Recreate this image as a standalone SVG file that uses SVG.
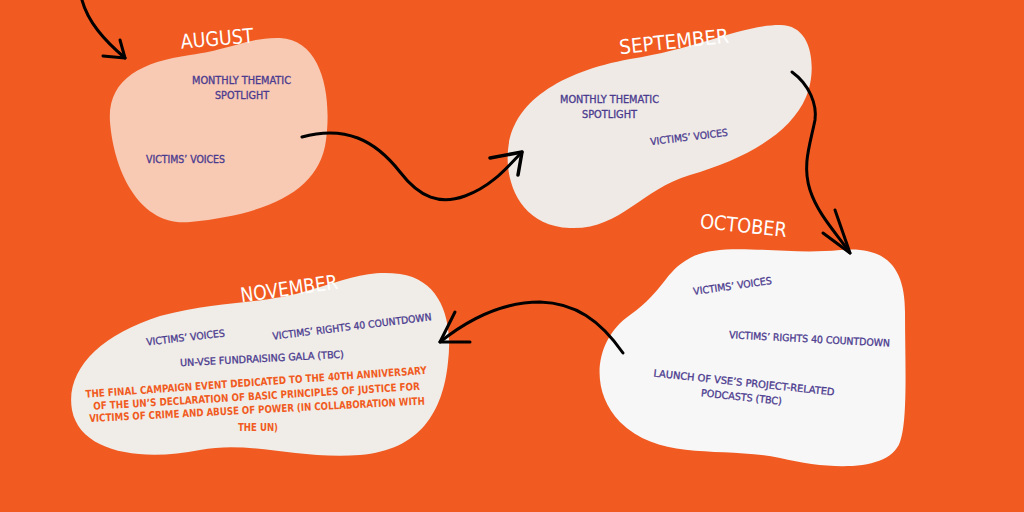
<svg xmlns="http://www.w3.org/2000/svg" width="1024" height="512" viewBox="0 0 1024 512">
<style>
.t{font-family:"DejaVu Sans Condensed","DejaVu Sans",sans-serif;font-size:10px;fill:#4B3B8F;stroke:#4B3B8F;stroke-width:0.3;text-anchor:middle}
.h{font-family:"DejaVu Sans Condensed","DejaVu Sans",sans-serif;font-size:20px;fill:#FFFFFF;text-anchor:middle}
.o{font-family:"DejaVu Sans Condensed","DejaVu Sans",sans-serif;font-size:10.5px;font-weight:bold;fill:#F15B22;text-anchor:middle}
.c{fill:none;stroke:#000;stroke-width:3;stroke-linecap:round;stroke-linejoin:round}
</style>
<rect width="1024" height="512" fill="#F15B22"/>

<g id="august">
<path d="M 280,38 C 322,40 332,95 326,140 C 320,190 270,214 190,222 C 140,227 114,172 110,122 C 107,80 140,62 190,55 C 232,49 250,37 280,38 Z" fill="#F8C9B3"/>
<text class="h" transform="translate(217,38) rotate(-5)" y="7.5" textLength="73" lengthAdjust="spacingAndGlyphs">AUGUST</text>
<text class="t" x="241.5" y="83.5" textLength="99" lengthAdjust="spacingAndGlyphs">MONTHLY THEMATIC</text>
<text class="t" x="242" y="98.5" textLength="54" lengthAdjust="spacingAndGlyphs">SPOTLIGHT</text>
<text class="t" x="185.5" y="163" textLength="79" lengthAdjust="spacingAndGlyphs">VICTIMS’ VOICES</text>
</g>

<g id="september">
<path d="M 780,25 C 816,25 816,75 806,97 C 790,135 742,160 690,175 C 640,190 620,230 570,228 C 520,226 505,182 508,150 C 512,102 560,72 630,59 C 700,48 742,25 780,25 Z" fill="#EFEAE6"/>
<text class="h" transform="translate(674,41) rotate(-6)" y="7.5" textLength="110" lengthAdjust="spacingAndGlyphs">SEPTEMBER</text>
<text class="t" x="609.5" y="103" textLength="99" lengthAdjust="spacingAndGlyphs">MONTHLY THEMATIC</text>
<text class="t" x="609.5" y="118" textLength="55" lengthAdjust="spacingAndGlyphs">SPOTLIGHT</text>
<text class="t" transform="translate(689,137) rotate(-7)" y="3.5" textLength="78" lengthAdjust="spacingAndGlyphs">VICTIMS’ VOICES</text>
</g>

<g id="october">
<path d="M 690,258 C 722,240 782,256 840,250 C 890,245 905,272 905,312 C 905,362 908,420 900,442 C 889,472 830,470 780,458 C 722,446 660,462 620,422 C 589,390 594,340 630,315 C 665,290 664,272 690,258 Z" fill="#F7F7F7"/>
<text class="h" transform="translate(743.5,225) rotate(6)" y="7.5" textLength="87" lengthAdjust="spacingAndGlyphs">OCTOBER</text>
<text class="t" transform="translate(732.5,286) rotate(-8)" y="3.5" textLength="79" lengthAdjust="spacingAndGlyphs">VICTIMS’ VOICES</text>
<text class="t" transform="translate(809.5,339) rotate(3)" y="3.5" textLength="161" lengthAdjust="spacingAndGlyphs">VICTIMS’ RIGHTS 40 COUNTDOWN</text>
<text class="t" transform="translate(744,382.5) rotate(6)" y="3.5" textLength="182" lengthAdjust="spacingAndGlyphs">LAUNCH OF VSE’S PROJECT-RELATED</text>
<text class="t" transform="translate(741.5,397) rotate(6)" y="3.5" textLength="81" lengthAdjust="spacingAndGlyphs">PODCASTS (TBC)</text>
</g>

<g id="november">
<path d="M 400,274 C 442,280 453,322 448,362 C 443,412 420,450 360,455 C 300,460 250,440 200,450 C 140,462 80,452 72,410 C 65,370 100,335 160,316 C 220,300 262,305 310,290 C 350,278 370,270 400,274 Z" fill="#F0EDE8"/>
<text class="h" transform="translate(289,288) rotate(-8)" y="7.5" textLength="98" lengthAdjust="spacingAndGlyphs">NOVEMBER</text>
<text class="t" transform="translate(185.5,337.5) rotate(-6.5)" y="3.5" textLength="79" lengthAdjust="spacingAndGlyphs">VICTIMS’ VOICES</text>
<text class="t" transform="translate(352,326.5) rotate(-7)" y="3.5" textLength="160" lengthAdjust="spacingAndGlyphs">VICTIMS’ RIGHTS 40 COUNTDOWN</text>
<text class="t" transform="translate(262,358.5) rotate(-3)" y="3.5" textLength="164" lengthAdjust="spacingAndGlyphs">UN-VSE FUNDRAISING GALA (TBC)</text>
<text class="o" transform="translate(256,382) rotate(-4)" y="3.8" textLength="342" lengthAdjust="spacingAndGlyphs">THE FINAL CAMPAIGN EVENT DEDICATED TO THE 40TH ANNIVERSARY</text>
<text class="o" transform="translate(256.5,396) rotate(-3.5)" y="3.8" textLength="327" lengthAdjust="spacingAndGlyphs">OF THE UN’S DECLARATION OF BASIC PRINCIPLES OF JUSTICE FOR</text>
<text class="o" transform="translate(257,409.5) rotate(-3)" y="3.8" textLength="336" lengthAdjust="spacingAndGlyphs">VICTIMS OF CRIME AND ABUSE OF POWER (IN COLLABORATION WITH</text>
<text class="o" transform="translate(258,427)" y="3.8" textLength="40" lengthAdjust="spacingAndGlyphs">THE UN)</text>
</g>

<g id="connectors">
<path class="c" d="M 82,0 C 88,22 104,40 125,58"/>
<path class="c" d="M 120,40 L 125,58 L 103,56"/>
<path class="c" d="M 302,137 C 345,125 375,140 400,172 C 420,198 440,205 465,196 C 490,187 505,170 522,152"/>
<path class="c" d="M 490,158 L 522,152 L 518,175" style="stroke-width:3.5"/>
<path class="c" d="M 792,72 C 810,85 817,105 815,120 C 810,145 802,165 810,190 C 818,215 838,235 850,253"/>
<path class="c" d="M 835,210 L 850,253 L 823,233"/>
<path class="c" d="M 623,353 C 600,320 575,303 540,302 C 505,302 470,318 440,342"/>
<path class="c" d="M 455,312 L 440,342 L 470,342"/>
</g>
</svg>
